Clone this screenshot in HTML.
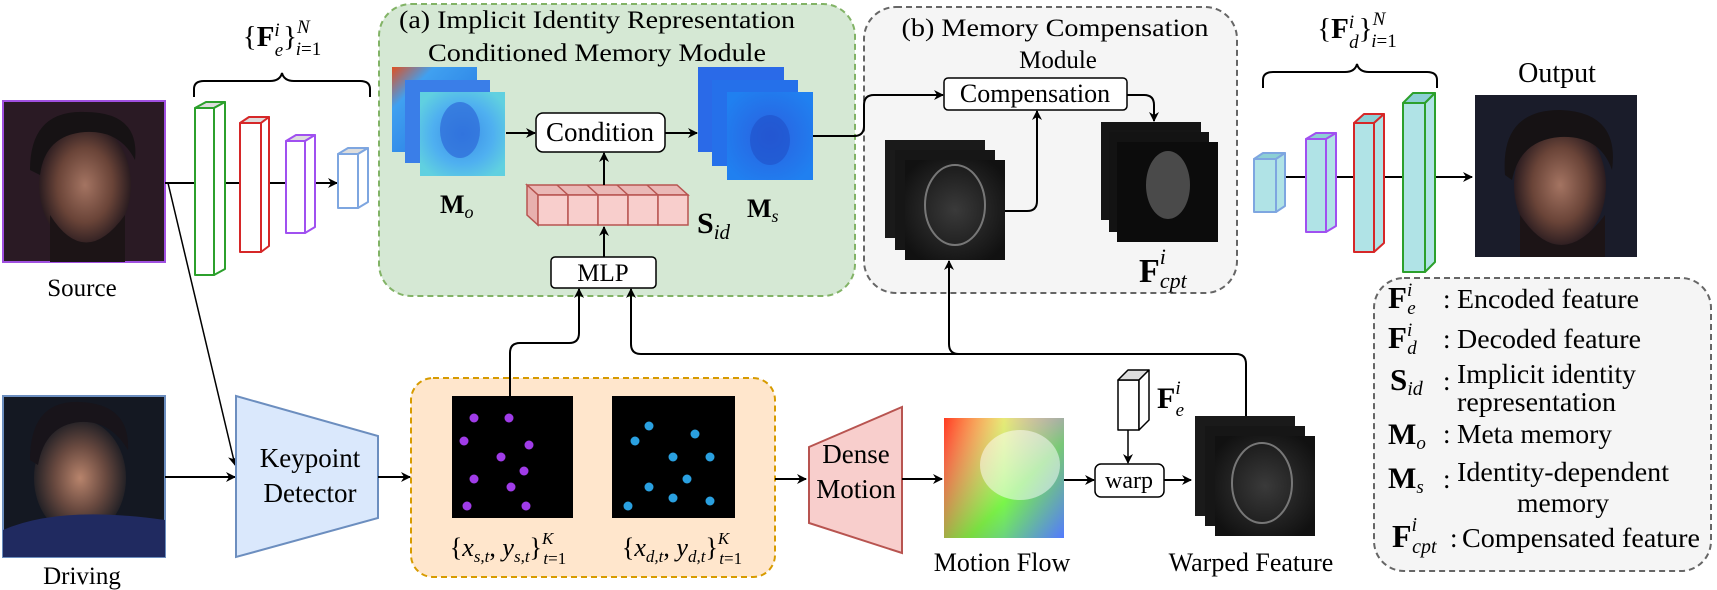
<!DOCTYPE html>
<html><head><meta charset="utf-8"><style>
html,body{margin:0;padding:0;background:#fff;}
svg{display:block;font-family:"Liberation Serif","DejaVu Serif",serif;}
</style></head><body>
<svg width="1717" height="590" viewBox="0 0 1717 590" xmlns="http://www.w3.org/2000/svg">
<defs>
<marker id="ar" markerWidth="10" markerHeight="10" refX="9" refY="5" orient="auto" markerUnits="userSpaceOnUse">
<path d="M0,0 L10,5 L0,10 L3,5 z" fill="#000"/></marker>
<radialGradient id="face" cx="0.5" cy="0.5" r="0.5"><stop offset="0" stop-color="#a47462"/><stop offset="0.6" stop-color="#6a4438"/><stop offset="1" stop-color="#2a1c20"/></radialGradient>
<radialGradient id="face2" cx="0.5" cy="0.5" r="0.55"><stop offset="0" stop-color="#b8846c"/><stop offset="0.5" stop-color="#6a4a40"/><stop offset="1" stop-color="#141820"/></radialGradient>
<radialGradient id="hm" cx="0.5" cy="0.5" r="0.6"><stop offset="0" stop-color="#3a8ce8"/><stop offset="0.6" stop-color="#4fb0f0"/><stop offset="1" stop-color="#60d0e0"/></radialGradient>
<linearGradient id="hm0" x1="0" y1="0" x2="1" y2="1"><stop offset="0" stop-color="#e05020"/><stop offset="0.25" stop-color="#40a0f0"/><stop offset="1" stop-color="#2070e0"/></linearGradient>
<radialGradient id="hms" cx="0.5" cy="0.5" r="0.6"><stop offset="0" stop-color="#2a60e0"/><stop offset="1" stop-color="#2080f0"/></radialGradient>
<radialGradient id="dk" cx="0.5" cy="0.5" r="0.6"><stop offset="0" stop-color="#3a3a3a"/><stop offset="1" stop-color="#111"/></radialGradient>
<linearGradient id="flowH" x1="0" y1="0" x2="1" y2="0"><stop offset="0" stop-color="#ff3a20"/><stop offset="0.5" stop-color="#ffe060"/><stop offset="1" stop-color="#ff40ff"/></linearGradient>
<linearGradient id="flowL" x1="0" y1="0" x2="1" y2="1"><stop offset="0" stop-color="#fff" stop-opacity="0"/><stop offset="0.6" stop-color="#40ff40" stop-opacity="0.7"/><stop offset="1" stop-color="#4080ff" stop-opacity="0.9"/></linearGradient>
</defs>

<rect x="379" y="4" width="476" height="292" rx="32" fill="#d5e8d4" stroke="#82b366" stroke-width="2" stroke-dasharray="6,4"/>
<rect x="864" y="7" width="373" height="286" rx="32" fill="#f5f5f5" stroke="#666" stroke-width="2" stroke-dasharray="6,4"/>
<rect x="411" y="378" width="364" height="199" rx="22" fill="#ffe6cc" stroke="#d79b00" stroke-width="2" stroke-dasharray="6,4"/>
<rect x="1374" y="278" width="337" height="293" rx="30" fill="#f5f5f5" stroke="#666" stroke-width="2" stroke-dasharray="6,4"/>

<text x="597" y="28" font-size="25" text-anchor="middle" textLength="396" lengthAdjust="spacingAndGlyphs">(a) Implicit Identity Representation</text>
<text x="597" y="61" font-size="25" text-anchor="middle" textLength="338" lengthAdjust="spacingAndGlyphs">Conditioned Memory Module</text>
<text x="1055" y="36" font-size="25" text-anchor="middle" textLength="307" lengthAdjust="spacingAndGlyphs">(b) Memory Compensation</text>
<text x="1058" y="68" font-size="25" text-anchor="middle">Module</text>

<!-- Source image -->
<rect x="3" y="101" width="162" height="161" fill="#2a1a24" stroke="#a050e0" stroke-width="2"/>
<ellipse cx="85" cy="185" rx="46" ry="62" fill="url(#face)"/>
<path d="M30,170 Q30,110 85,112 Q140,112 135,160 Q120,130 85,132 Q45,135 40,175z" fill="#161214"/>
<path d="M50,215 Q85,270 125,215 L125,262 L50,262z" fill="#1c1416"/>
<text x="82" y="296" font-size="25" text-anchor="middle">Source</text>
<!-- Driving image -->
<rect x="3" y="396" width="162" height="161" fill="#141822" stroke="#6c8ebf" stroke-width="2"/>
<ellipse cx="80" cy="478" rx="46" ry="58" fill="url(#face2)"/>
<path d="M30,460 Q30,400 80,402 Q130,404 128,450 Q110,420 80,422 Q45,425 38,465z" fill="#18141a"/>
<path d="M3,530 Q60,505 165,520 L165,557 L3,557z" fill="#202a60"/>
<text x="82" y="584" font-size="25" text-anchor="middle">Driving</text>

<!-- encoder -->
<line x1="165" y1="183" x2="337" y2="183" stroke="#000" stroke-width="2" marker-end="url(#ar)"/>
<g stroke-width="2" stroke-linejoin="round">
<g stroke="#2ca02c"><rect x="195" y="108" width="19" height="167" fill="#fff"/><path d="M195,108 l11,-6 h19 l-11,6z" fill="#ddd"/><path d="M214,108 l11,-6 v167 l-11,6z" fill="#fff"/></g>
<g stroke="#d62728"><rect x="240" y="123" width="21" height="129" fill="#fff"/><path d="M240,123 l9,-6 h20 l-8,6z" fill="#ddd"/><path d="M261,123 l8,-6 v129 l-8,6z" fill="#fff"/></g>
<g stroke="#a050f0"><rect x="286" y="141" width="19" height="92" fill="#fff"/><path d="M286,141 l10,-6 h19 l-10,6z" fill="#ddd"/><path d="M305,141 l10,-6 v92 l-10,6z" fill="#fff"/></g>
<g stroke="#7ea6e0"><rect x="338" y="154" width="20" height="54" fill="#fff"/><path d="M338,154 l10,-6 h20 l-10,6z" fill="#ddd"/><path d="M358,154 l10,-6 v54 l-10,6z" fill="#fff"/></g>
</g>
<path d="M194,97 v-8 q0,-8 10,-8 h66 q10,0 12,-8 q2,8 12,8 h66 q10,0 10,8 v8" fill="none" stroke="#000" stroke-width="2"/>
<text x="282" y="46" font-size="29" text-anchor="middle">{<tspan font-weight="bold">F</tspan><tspan font-style="italic" font-size="19" dy="-10">i</tspan><tspan font-style="italic" font-size="19" dx="-5" dy="20">e</tspan><tspan dy="-10">}</tspan><tspan font-style="italic" font-size="19" dy="-13">N</tspan><tspan font-size="19" dx="-14" dy="22"><tspan font-style="italic">i</tspan>=1</tspan></text>

<!-- M_o heatmaps -->
<rect x="392" y="67" width="85" height="85" fill="url(#hm0)"/>
<rect x="405" y="80" width="85" height="83" fill="#3a7ee8"/>
<rect x="420" y="92" width="85" height="84" fill="url(#hm)"/>
<ellipse cx="460" cy="130" rx="20" ry="28" fill="#2d6ad8" opacity="0.7"/>
<text x="440" y="213" font-size="26" font-weight="bold">M<tspan font-weight="normal" font-style="italic" font-size="18" dy="5">o</tspan></text>
<line x1="506" y1="133" x2="535" y2="133" stroke="#000" stroke-width="2" marker-end="url(#ar)"/>
<rect x="536" y="113" width="129" height="39" rx="7" fill="#fff" stroke="#000" stroke-width="1.5"/>
<text x="600" y="141" font-size="27" text-anchor="middle">Condition</text>
<line x1="665" y1="133" x2="697" y2="133" stroke="#000" stroke-width="2" marker-end="url(#ar)"/>
<!-- M_s -->
<rect x="698" y="67" width="86" height="85" fill="#2a6ae8"/>
<rect x="712" y="80" width="86" height="86" fill="#2570ea"/>
<rect x="727" y="92" width="86" height="88" fill="url(#hms)"/>
<ellipse cx="770" cy="140" rx="20" ry="25" fill="#2050c8" opacity="0.6"/>
<text x="747" y="217" font-size="26" font-weight="bold">M<tspan font-weight="normal" font-style="italic" font-size="18" dy="5">s</tspan></text>
<g stroke="#b85450" stroke-width="1.5" fill="#f8cecc">
<path d="M527,185 h150 l11,10 h-150z" fill="#eab8b6"/>
<path d="M527,185 l11,10 v30 l-11,-10z" fill="#e8b0ae"/>
<rect x="538" y="195" width="30" height="30"/><rect x="568" y="195" width="30" height="30"/><rect x="598" y="195" width="30" height="30"/><rect x="628" y="195" width="30" height="30"/><rect x="658" y="195" width="30" height="30"/>
<path d="M557,185 l11,10 M587,185 l11,10 M617,185 l11,10 M647,185 l11,10" fill="none"/>
</g>
<text x="697" y="233" font-size="30" font-weight="bold">S<tspan font-weight="normal" font-style="italic" font-size="21" dy="6">id</tspan></text>
<line x1="604" y1="185" x2="604" y2="153" stroke="#000" stroke-width="2" marker-end="url(#ar)"/>
<rect x="551" y="257" width="105" height="31" rx="4" fill="#fff" stroke="#000" stroke-width="1.5"/>
<text x="603" y="281" font-size="25" text-anchor="middle">MLP</text>
<line x1="604" y1="257" x2="604" y2="227" stroke="#000" stroke-width="2" marker-end="url(#ar)"/>

<path d="M813,136 H854 q10,0 10,-10 V105 q0,-10 10,-10 H943" fill="none" stroke="#000" stroke-width="2" marker-end="url(#ar)"/>
<rect x="944" y="78" width="183" height="32" rx="4" fill="#fff" stroke="#000" stroke-width="1.5"/>
<text x="1035" y="102" font-size="26" text-anchor="middle">Compensation</text>
<path d="M1127,95 h17 q10,0 10,10 V121" fill="none" stroke="#000" stroke-width="2" marker-end="url(#ar)"/>
<rect x="885" y="140" width="100" height="98" fill="#1a1a1a"/>
<rect x="895" y="150" width="100" height="100" fill="#161616"/>
<rect x="905" y="160" width="100" height="100" fill="url(#dk)"/>
<ellipse cx="955" cy="205" rx="30" ry="40" fill="none" stroke="#777" stroke-width="2"/>
<path d="M1005,211 h22 q10,0 10,-10 V111" fill="none" stroke="#000" stroke-width="2" marker-end="url(#ar)"/>
<rect x="1101" y="122" width="100" height="98" fill="#151515"/>
<rect x="1109" y="132" width="100" height="100" fill="#131313"/>
<rect x="1117" y="142" width="101" height="100" fill="#0c0c0c"/>
<ellipse cx="1168" cy="185" rx="22" ry="34" fill="#5a5a5a" opacity="0.8"/>
<text x="1139" y="282" font-size="34" font-weight="bold">F<tspan font-weight="normal" font-style="italic" font-size="22" dy="-18">i</tspan><tspan font-weight="normal" font-style="italic" font-size="22" dx="-6" dy="24">cpt</tspan></text>

<!-- decoder -->
<line x1="1277" y1="177" x2="1472" y2="177" stroke="#000" stroke-width="2" marker-end="url(#ar)"/>
<g stroke-width="2" stroke-linejoin="round">
<g stroke="#7ea6e0"><rect x="1254" y="159" width="22" height="53" fill="#b0e3e6"/><path d="M1254,159 l9,-6 h22 l-9,6z" fill="#8ccfd4"/><path d="M1276,159 l9,-6 v53 l-9,6z" fill="#b0e3e6"/></g>
<g stroke="#a050f0"><rect x="1306" y="139" width="20" height="93" fill="#b0e3e6"/><path d="M1306,139 l10,-6 h20 l-10,6z" fill="#8ccfd4"/><path d="M1326,139 l10,-6 v93 l-10,6z" fill="#b0e3e6"/></g>
<g stroke="#d62728"><rect x="1354" y="123" width="20" height="129" fill="#b0e3e6"/><path d="M1354,123 l10,-9 h20 l-10,9z" fill="#8ccfd4"/><path d="M1374,123 l10,-9 v129 l-10,9z" fill="#b0e3e6"/></g>
<g stroke="#2ca02c"><rect x="1403" y="103" width="22" height="169" fill="#b0e3e6"/><path d="M1403,103 l10,-10 h22 l-10,10z" fill="#8ccfd4"/><path d="M1425,103 l10,-10 v169 l-10,10z" fill="#b0e3e6"/></g>
</g>
<path d="M1263,88 v-8 q0,-8 10,-8 h72 q10,0 12,-8 q2,8 12,8 h58 q10,0 10,8 v8" fill="none" stroke="#000" stroke-width="2"/>
<text x="1357" y="38" font-size="29" text-anchor="middle">{<tspan font-weight="bold">F</tspan><tspan font-style="italic" font-size="19" dy="-10">i</tspan><tspan font-style="italic" font-size="19" dx="-5" dy="20">d</tspan><tspan dy="-10">}</tspan><tspan font-style="italic" font-size="19" dy="-13">N</tspan><tspan font-size="19" dx="-14" dy="22"><tspan font-style="italic">i</tspan>=1</tspan></text>
<text x="1557" y="82" font-size="28" text-anchor="middle">Output</text>
<rect x="1475" y="95" width="162" height="162" fill="#1a1c2a"/>
<ellipse cx="1560" cy="185" rx="46" ry="62" fill="url(#face)"/>
<path d="M1505,175 Q1500,110 1560,110 Q1620,112 1612,170 Q1600,135 1560,137 Q1520,140 1512,180z" fill="#161214"/>
<path d="M1520,215 Q1560,275 1605,215 L1605,257 L1520,257z" fill="#1c1416"/>

<path d="M168,183 L235,465" fill="none" stroke="#000" stroke-width="1.5" marker-end="url(#ar)"/>
<line x1="165" y1="477" x2="235" y2="477" stroke="#000" stroke-width="2" marker-end="url(#ar)"/>
<path d="M236,396 L378,436 V518 L236,557z" fill="#dae8fc" stroke="#6c8ebf" stroke-width="2"/>
<text x="310" y="467" font-size="27" text-anchor="middle">Keypoint</text>
<text x="310" y="502" font-size="27" text-anchor="middle">Detector</text>
<line x1="378" y1="477" x2="410" y2="477" stroke="#000" stroke-width="2" marker-end="url(#ar)"/>

<rect x="452" y="396" width="121" height="122" fill="#000"/>
<rect x="612" y="396" width="123" height="122" fill="#000"/>
<g fill="#a03ce8">
<circle cx="474" cy="418" r="4.5"/><circle cx="509" cy="418" r="4.5"/><circle cx="464" cy="441" r="4.5"/><circle cx="529" cy="445" r="4.5"/><circle cx="501" cy="457" r="4.5"/><circle cx="524" cy="471" r="4.5"/><circle cx="474" cy="479" r="4.5"/><circle cx="511" cy="487" r="4.5"/><circle cx="467" cy="506" r="4.5"/><circle cx="526" cy="506" r="4.5"/>
</g>
<g fill="#2aa0e0">
<circle cx="649" cy="426" r="4.5"/><circle cx="695" cy="434" r="4.5"/><circle cx="635" cy="441" r="4.5"/><circle cx="673" cy="457" r="4.5"/><circle cx="710" cy="457" r="4.5"/><circle cx="687" cy="479" r="4.5"/><circle cx="649" cy="487" r="4.5"/><circle cx="673" cy="498" r="4.5"/><circle cx="628" cy="506" r="4.5"/><circle cx="710" cy="501" r="4.5"/>
</g>
<text x="508" y="556" font-size="26" text-anchor="middle">{<tspan font-style="italic">x</tspan><tspan font-style="italic" font-size="17" dy="6">s,t</tspan><tspan dy="-6">, </tspan><tspan font-style="italic">y</tspan><tspan font-style="italic" font-size="17" dy="6">s,t</tspan><tspan dy="-6">}</tspan><tspan font-style="italic" font-size="17" dy="-12">K</tspan><tspan font-size="17" dx="-10" dy="20"><tspan font-style="italic">t</tspan>=1</tspan></text>
<text x="682" y="556" font-size="26" text-anchor="middle">{<tspan font-style="italic">x</tspan><tspan font-style="italic" font-size="17" dy="6">d,t</tspan><tspan dy="-6">, </tspan><tspan font-style="italic">y</tspan><tspan font-style="italic" font-size="17" dy="6">d,t</tspan><tspan dy="-6">}</tspan><tspan font-style="italic" font-size="17" dy="-12">K</tspan><tspan font-size="17" dx="-10" dy="20"><tspan font-style="italic">t</tspan>=1</tspan></text>

<path d="M510,396 V353 q0,-10 10,-10 H569 q10,0 10,-10 V289" fill="none" stroke="#000" stroke-width="2" marker-end="url(#ar)"/>
<path d="M1246,416 V364 q0,-10 -10,-10 H641 q-10,0 -10,-10 V289" fill="none" stroke="#000" stroke-width="2" marker-end="url(#ar)"/>
<path d="M959,354 q-10,0 -10,-10 V261" fill="none" stroke="#000" stroke-width="2" marker-end="url(#ar)"/>

<line x1="775" y1="479" x2="806" y2="479" stroke="#000" stroke-width="2" marker-end="url(#ar)"/>
<path d="M809,447 L902,407 V553 L809,523z" fill="#f8cecc" stroke="#b85450" stroke-width="2"/>
<text x="856" y="463" font-size="27" text-anchor="middle">Dense</text>
<text x="856" y="498" font-size="27" text-anchor="middle">Motion</text>
<line x1="902" y1="479" x2="942" y2="479" stroke="#000" stroke-width="2" marker-end="url(#ar)"/>
<rect x="944" y="418" width="120" height="120" fill="url(#flowH)"/>
<rect x="944" y="418" width="120" height="120" fill="url(#flowL)"/>
<ellipse cx="1020" cy="465" rx="40" ry="35" fill="#fff" opacity="0.5"/>
<text x="1002" y="571" font-size="26" text-anchor="middle">Motion Flow</text>
<line x1="1064" y1="480" x2="1094" y2="480" stroke="#000" stroke-width="2" marker-end="url(#ar)"/>
<rect x="1095" y="464" width="69" height="33" rx="6" fill="#fff" stroke="#000" stroke-width="1.5"/>
<text x="1129" y="488" font-size="24" text-anchor="middle">warp</text>
<g stroke="#000" stroke-width="1.5" stroke-linejoin="round">
<rect x="1118" y="380" width="21" height="50" fill="#fff"/>
<path d="M1118,380 l10,-10 h21 l-10,10z" fill="#ddd"/>
<path d="M1139,380 l10,-10 v50 l-10,10z" fill="#fff"/>
</g>
<text x="1157" y="408" font-size="30" font-weight="bold">F<tspan font-weight="normal" font-style="italic" font-size="19" dy="-14">i</tspan><tspan font-weight="normal" font-style="italic" font-size="19" dx="-5" dy="22">e</tspan></text>
<line x1="1128" y1="430" x2="1128" y2="463" stroke="#000" stroke-width="1.5" marker-end="url(#ar)"/>
<line x1="1164" y1="480" x2="1191" y2="480" stroke="#000" stroke-width="2" marker-end="url(#ar)"/>
<rect x="1195" y="416" width="100" height="100" fill="#1a1a1a"/>
<rect x="1205" y="426" width="100" height="100" fill="#161616"/>
<rect x="1215" y="436" width="100" height="100" fill="url(#dk)"/>
<ellipse cx="1262" cy="483" rx="30" ry="40" fill="none" stroke="#777" stroke-width="2"/>
<text x="1251" y="571" font-size="26" text-anchor="middle">Warped Feature</text>

<!-- legend -->
<g font-size="27">
<text x="1388" y="308" font-size="31" font-weight="bold">F<tspan font-weight="normal" font-style="italic" font-size="19" dy="-12">i</tspan><tspan font-weight="normal" font-style="italic" font-size="19" dx="-5" dy="18">e</tspan></text>
<text x="1443" y="308">:</text><text x="1457" y="308" textLength="182" lengthAdjust="spacingAndGlyphs">Encoded feature</text>
<text x="1388" y="348" font-size="31" font-weight="bold">F<tspan font-weight="normal" font-style="italic" font-size="19" dy="-12">i</tspan><tspan font-weight="normal" font-style="italic" font-size="19" dx="-5" dy="18">d</tspan></text>
<text x="1443" y="348">:</text><text x="1457" y="348" textLength="184" lengthAdjust="spacingAndGlyphs">Decoded feature</text>
<text x="1390" y="390" font-size="31" font-weight="bold">S<tspan font-weight="normal" font-style="italic" font-size="20" dy="5">id</tspan></text>
<text x="1443" y="390">:</text>
<text x="1457" y="383" textLength="179" lengthAdjust="spacingAndGlyphs">Implicit identity</text>
<text x="1457" y="411" textLength="159" lengthAdjust="spacingAndGlyphs">representation</text>
<text x="1388" y="444" font-size="30" font-weight="bold">M<tspan font-weight="normal" font-style="italic" font-size="19" dy="5">o</tspan></text>
<text x="1443" y="443">:</text><text x="1457" y="443" textLength="155" lengthAdjust="spacingAndGlyphs">Meta memory</text>
<text x="1388" y="488" font-size="30" font-weight="bold">M<tspan font-weight="normal" font-style="italic" font-size="19" dy="5">s</tspan></text>
<text x="1443" y="488">:</text>
<text x="1457" y="481" textLength="212" lengthAdjust="spacingAndGlyphs">Identity-dependent</text>
<text x="1517" y="512" textLength="92" lengthAdjust="spacingAndGlyphs">memory</text>
<text x="1392" y="547" font-size="32" font-weight="bold">F<tspan font-weight="normal" font-style="italic" font-size="20" dy="-16">i</tspan><tspan font-weight="normal" font-style="italic" font-size="20" dx="-5" dy="22">cpt</tspan></text>
<text x="1450" y="547">:</text><text x="1462" y="547" textLength="238" lengthAdjust="spacingAndGlyphs">Compensated feature</text>
</g>
</svg>
</body></html>
